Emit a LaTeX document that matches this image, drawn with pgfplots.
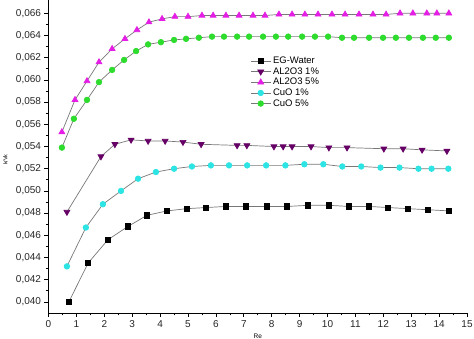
\documentclass[border=0pt]{standalone}
\usepackage{fontspec}
\setmainfont{Liberation Sans}
\usepackage{pgfplots}
\pgfplotsset{compat=1.18}
\definecolor{cpurple}{RGB}{102,0,102}
\definecolor{cmag}{RGB}{228,30,228}
\definecolor{ccyan}{RGB}{45,228,228}
\definecolor{cgreen}{RGB}{45,220,45}
\definecolor{lgray}{RGB}{120,120,120}
\begin{document}
\begin{tikzpicture}
\useasboundingbox (0,0) rectangle (474pt,339pt);
\begin{axis}[
  at={(48.5pt,26pt)}, anchor=south west,
  scale only axis, width=418.5pt, height=313pt,
  xmin=0, xmax=15, ymin=0.0390, ymax=0.0672,
  axis lines=left, axis line style={-, black, line width=0.8pt},
  tick align=outside, tick style={black, line width=0.7pt},
  major tick length=4pt, minor tick length=2.5pt,
  xtick={0,1,...,15}, minor x tick num=1,
  ytick={0.040,0.042,0.044,0.046,0.048,0.050,0.052,0.054,0.056,0.058,0.060,0.062,0.064,0.066},
  minor y tick num=1,
  scaled y ticks=false,
  yticklabel style={/pgf/number format/.cd, fixed, fixed zerofill, precision=3, use comma, assume math mode=true},
  xticklabel style={/pgf/number format/assume math mode=true},
  tick label style={font=\fontsize{10}{12}\selectfont, text=black!85},
  xlabel={Re}, xlabel style={font=\fontsize{6.5}{7}\selectfont, at={(rel axis cs:0.5,0)}, anchor=center, yshift=-23pt},
  ylabel={k/Vk}, ylabel style={font=\fontsize{5.5}{6}\selectfont, at={(rel axis cs:0,0.49)}, anchor=center, yshift=43pt},
  legend cell align=left,
  legend image code/.code={
    \draw[#1, mark=none] (0cm,0cm) -- (0.7cm,0cm);
    \draw[#1, only marks] plot coordinates {(0.35cm,0cm)};
  },
  legend style={draw=none, fill=none, at={(rel axis cs:0.482,0.825)}, anchor=north west,
    font=\fontsize{9.5}{10}\selectfont, row sep=-1.5pt, inner sep=0pt},
  every axis plot/.append style={line width=0.7pt, color=lgray},
]
\addplot[lgray, mark=square*, mark size=2.6pt, mark options={fill=black, draw=black}] coordinates {
(0.73,0.0400)(1.42,0.0435)(2.13,0.0456)(2.85,0.0468)(3.53,0.0478)(4.25,0.0482)(4.96,0.0484)(5.64,0.0485)(6.36,0.0486)(7.08,0.0486)(7.83,0.0486)(8.55,0.0486)(9.30,0.0487)(10.05,0.0487)(10.77,0.0486)(11.49,0.0486)(12.17,0.0485)(12.89,0.0484)(13.60,0.0483)(14.35,0.0482)};
\addlegendentry{EG-Water}
\addplot[lgray, mark=triangle*, mark size=3.4pt, mark options={rotate=180, fill=cpurple, draw=cpurple}] coordinates {
(0.66,0.0481)(1.88,0.0531)(2.38,0.0542)(2.96,0.0546)(3.57,0.0545)(4.18,0.0545)(4.82,0.0544)(5.47,0.0542)(6.76,0.0541)(7.11,0.0541)(8.08,0.0540)(8.41,0.0540)(8.73,0.0540)(9.41,0.0540)(10.05,0.0539)(10.70,0.0539)(12.02,0.0538)(12.71,0.0538)(13.39,0.0537)(14.28,0.0536)};
\addlegendentry{AL2O3 1\%}
\addplot[lgray, mark=triangle*, mark size=3.4pt, mark options={fill=cmag, draw=cmag}] coordinates {
(0.48,0.0553)(0.95,0.0582)(1.38,0.0599)(1.81,0.0616)(2.28,0.0628)(2.74,0.0637)(3.17,0.0645)(3.60,0.0652)(4.07,0.0655)(4.53,0.0657)(5.00,0.0657)(5.50,0.0658)(5.90,0.0658)(6.36,0.0658)(6.83,0.0658)(7.33,0.0658)(7.76,0.0658)(8.26,0.0659)(8.73,0.0659)(9.19,0.0659)(9.66,0.0659)(10.16,0.0659)(10.63,0.0659)(11.13,0.0659)(11.63,0.0659)(12.10,0.0659)(12.60,0.0660)(13.06,0.0660)(13.56,0.0660)(13.92,0.0660)(14.35,0.0660)};
\addlegendentry{AL2O3 5\%}
\addplot[lgray, mark=*, mark size=2.8pt, mark options={fill=ccyan, draw=ccyan}] coordinates {
(0.66,0.0432)(1.34,0.0467)(1.95,0.0488)(2.60,0.0500)(3.21,0.0511)(3.85,0.0517)(4.50,0.0520)(5.14,0.0522)(5.82,0.0523)(6.47,0.0523)(7.12,0.0523)(7.80,0.0523)(8.49,0.0523)(9.17,0.0524)(9.85,0.0524)(10.53,0.0522)(11.21,0.0522)(11.90,0.0521)(12.58,0.0521)(13.26,0.0520)(13.73,0.0520)(14.33,0.0520)};
\addlegendentry{CuO 1\%}
\addplot[lgray, mark=*, mark size=2.8pt, mark options={fill=cgreen, draw=cgreen}] coordinates {
(0.48,0.0539)(0.91,0.0565)(1.38,0.0582)(1.81,0.0598)(2.28,0.0609)(2.71,0.0618)(3.14,0.0626)(3.57,0.0632)(4.03,0.0634)(4.50,0.0636)(4.93,0.0637)(5.39,0.0638)(5.86,0.0639)(6.29,0.0639)(6.76,0.0639)(7.19,0.0639)(7.69,0.0639)(8.15,0.0639)(8.59,0.0639)(9.09,0.0639)(9.55,0.0639)(10.02,0.0639)(10.52,0.0638)(10.95,0.0638)(11.49,0.0638)(11.99,0.0638)(12.45,0.0638)(12.92,0.0638)(13.42,0.0638)(13.88,0.0638)(14.35,0.0638)};
\addlegendentry{CuO 5\%}
\end{axis}
\end{tikzpicture}
\end{document}
